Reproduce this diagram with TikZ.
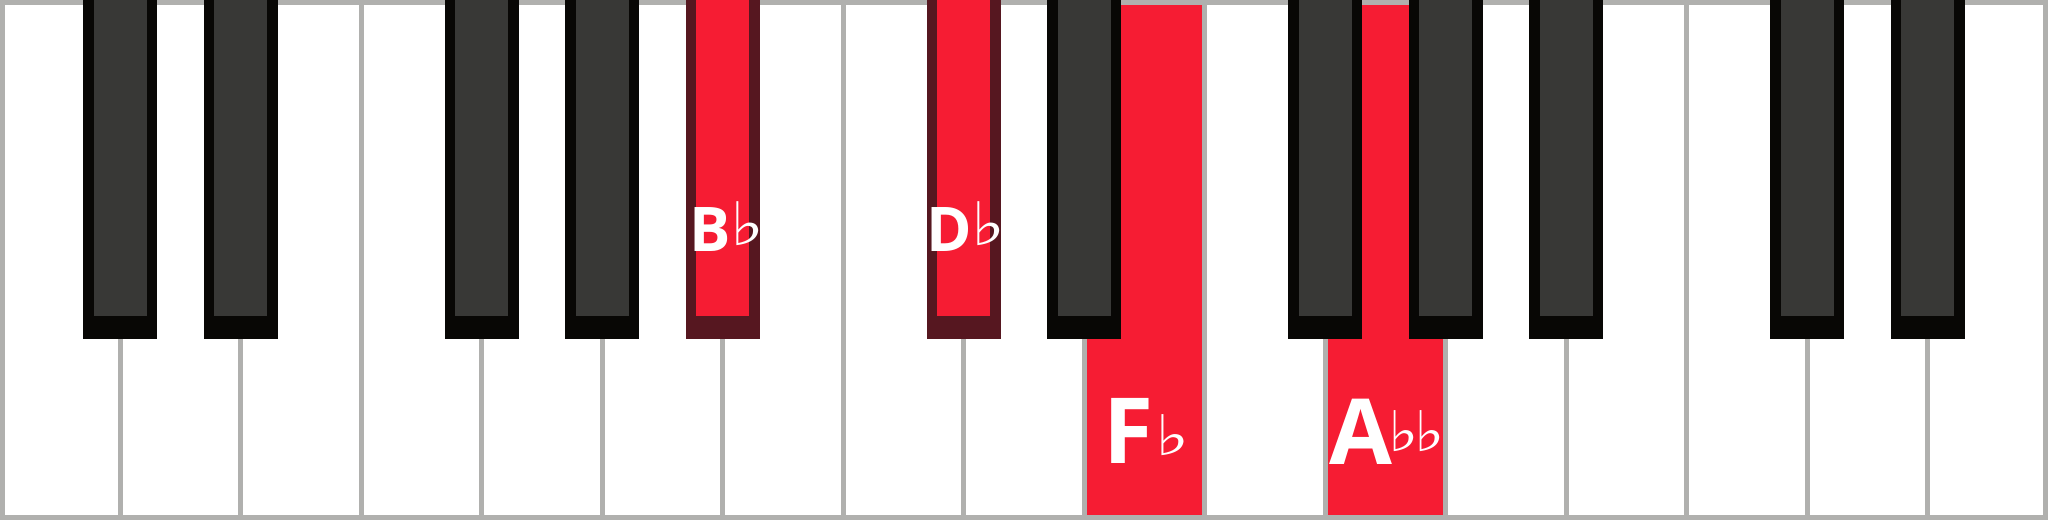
\documentclass[tikz,border=0pt]{standalone}
\usepackage{fontspec}
\newfontfamily\notefont{Open Sans}
\newfontfamily\flatfont{DejaVu Sans}
\usetikzlibrary{positioning}

\definecolor{keygray}{RGB}{176,176,174}
\definecolor{keyblack}{RGB}{8,7,5}
\definecolor{keyface}{RGB}{56,56,54}
\definecolor{keyred}{RGB}{246,28,51}
\definecolor{keydarkred}{RGB}{86,23,32}

% flat sign: size, width factor, raise
\newcommand{\flt}[3]{\raisebox{#3}{\flatfont\fontsize{#1}{#1}\selectfont\scalebox{#2}[1]{♭}}}

\begin{document}
\begin{tikzpicture}[
        x=0.25pt, y=0.25pt,
        frame/.style={draw=keygray, line width=1.25pt, fill=white},
        divider/.style={keygray, line width=1.25pt},
        whitehit/.style={fill=keyred},
        blackkey/.style={fill=keyblack},
        blackface/.style={fill=keyface},
        redkey/.style={fill=keydarkred},
        redface/.style={fill=keyred},
        note/.style={text=white, inner sep=0pt, anchor=base},
        topnote/.style={note, font=\notefont\bfseries\fontsize{15.4}{16}\selectfont},
        lownote/.style={note, font=\notefont\bfseries\fontsize{22.8}{24}\selectfont}
    ]
    \useasboundingbox (0,0) rectangle (2048,520);

    % Keyboard frame
    \draw[frame] (2.5,2.5) rectangle (2045.5,517.5);

    % Pressed white keys
    \fill[whitehit] (1086.6,5) rectangle (1202.2,515);
    \fill[whitehit] (1327.7,5) rectangle (1443.1,515);

    % White key dividers
    \foreach \k in {1,...,16}
        \draw[divider] ({\k*120.47},5) -- ({\k*120.47},515);

    % Black keys
    \foreach \k in {1,2,4,5,9,11,12,13,15,16} {
        \fill[blackkey] ({\k*120.47-37},181) rectangle ({\k*120.47+37},520);
        \fill[blackface] ({\k*120.47-26.5},204) rectangle ({\k*120.47+26.5},520);
    }

    % Pressed black keys
    \foreach \k in {6,8} {
        \fill[redkey] ({\k*120.47-37},181) rectangle ({\k*120.47+37},520);
        \fill[redface] ({\k*120.47-26.5},204) rectangle ({\k*120.47+26.5},520);
    }

    % Note names
    \node[topnote] (bflat) at (727,268) {B\flt{15}{1.2}{1.5pt}};
    \node[topnote] (dflat) at (966,268) {D\flt{15}{1.2}{1.5pt}};
    \node[lownote] (fflat) at (1147,56) {F\hspace{0.5pt}\flt{14}{1.3}{2pt}};
    \node[lownote] (aflatflat) at (1387,55) {A\hspace{-1pt}\flt{14}{1.15}{3.3pt}\hspace{-1pt}\flt{14}{1.15}{3.3pt}};

\end{tikzpicture}
\end{document}
